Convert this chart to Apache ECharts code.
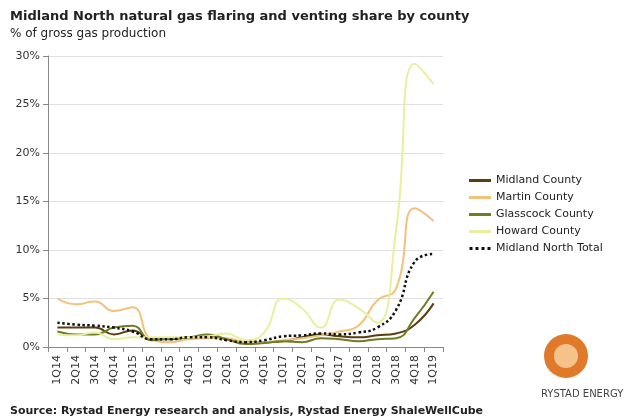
<!DOCTYPE html>
<html><head><meta charset="utf-8">
<script src="https://cdn.jsdelivr.net/npm/echarts@6/dist/echarts.min.js"></script>
<style>body{margin:0}#c{width:624px;height:420px}</style></head>
<body><div id="c"></div>
<script>
const quarters = ['1Q14','2Q14','3Q14','4Q14','1Q15','2Q15','3Q15','4Q15','1Q16','2Q16','3Q16','4Q16','1Q17','2Q17','3Q17','4Q17','1Q18','2Q18','3Q18','4Q18','1Q19']
const midland = [2.0,2.0,2.0,1.3,1.7,0.8,0.8,1.0,1.1,0.8,0.5,0.5,0.6,1.0,1.3,1.1,1.0,1.2,1.4,2.3,4.5]
const martin = [5.0,4.4,4.7,3.7,4.1,0.8,0.5,0.8,0.9,0.9,0.5,0.5,0.7,0.9,1.2,1.6,2.2,4.8,6.0,14.3,13.0]
const glasscock = [1.6,1.3,1.3,2.0,2.2,0.7,0.9,1.0,1.3,0.8,0.3,0.4,0.6,0.5,0.9,0.8,0.6,0.8,0.9,3.0,5.7]
const howard = [1.3,1.2,1.5,0.8,1.0,1.0,1.0,1.0,1.1,1.4,0.7,1.5,5.0,4.0,2.0,4.9,4.0,2.5,12.0,29.2,27.1]
const total = [2.5,2.3,2.2,2.0,1.6,0.8,0.8,1.0,1.0,0.7,0.5,0.7,1.1,1.2,1.4,1.3,1.5,2.0,3.8,8.8,9.6]
const yTicks = [0,5,10,15,20,25,30]

const chart = echarts.init(document.getElementById('c'))
const line = (name, data, color, type) => ({
  name, type: 'line', data, smooth: true, symbol: 'none',
  lineStyle: { color, width: type ? 2.5 : 2, type: type || 'solid' },
  itemStyle: { color }
})
chart.setOption({
  textStyle: { fontFamily: 'Verdana, DejaVu Sans, sans-serif' },
  title: [
    { text: 'Midland North natural gas flaring and venting share by county', left: 5, top: 5,
      textStyle: { fontSize: 13, fontWeight: 'bold', color: '#222' } },
    { text: '% of gross gas production', left: 5, top: 23, textStyle: { fontSize: 12, fontWeight: 'normal', color: '#222' } },
    { text: 'Source: Rystad Energy research and analysis, Rystad Energy ShaleWellCube', left: 5, top: 401,
      textStyle: { fontSize: 11, fontWeight: 'bold', color: '#222' } },
    { text: 'RYSTAD ENERGY', left: 536, top: 384, textStyle: { fontSize: 10, fontWeight: 'normal', color: '#444' } }
  ],
  graphic: [{ type: 'circle', shape: { cx: 566, cy: 356, r: 22 }, style: { fill: '#e07a2a' } },
            { type: 'circle', shape: { cx: 566, cy: 356, r: 12 }, style: { fill: '#f5c28a' } }],
  legend: {
    orient: 'vertical', left: 464, top: 170, itemGap: 6, itemWidth: 22, itemHeight: 3,
    icon: 'rect', textStyle: { fontSize: 11, color: '#222' },
    data: ['Midland County','Martin County','Glasscock County','Howard County',
      { name: 'Midland North Total', icon: 'path://M0,0h3v3H0z M6,0h3v3H6z M12,0h3v3h-3z M18,0h3v3h-3z' }]
  },
  grid: { left: 48, right: 181, top: 56, bottom: 73, containLabel: false },
  xAxis: {
    type: 'category', data: quarters, boundaryGap: true,
    axisLine: { lineStyle: { color: '#888' } },
    axisTick: { show: true, lineStyle: { color: '#888' } },
    axisLabel: { rotate: 90, fontSize: 11, color: '#333', interval: 0 }
  },
  yAxis: {
    type: 'value', min: 0, max: 30, interval: 5,
    axisLabel: { formatter: v => yTicks.includes(v) ? v + '%' : '', fontSize: 11, color: '#333' },
    axisLine: { show: true, lineStyle: { color: '#888' } },
    axisTick: { show: true, lineStyle: { color: '#888' } },
    splitLine: { lineStyle: { color: '#e0e0e0' } }
  },
  series: [
    line('Midland County', midland, '#5c3d0f'),
    line('Martin County', martin, '#f2c27a'),
    line('Glasscock County', glasscock, '#6f7d22'),
    line('Howard County', howard, '#e9ef9e'),
    line('Midland North Total', total, '#111', 'dotted')
  ]
})
</script></body></html>
